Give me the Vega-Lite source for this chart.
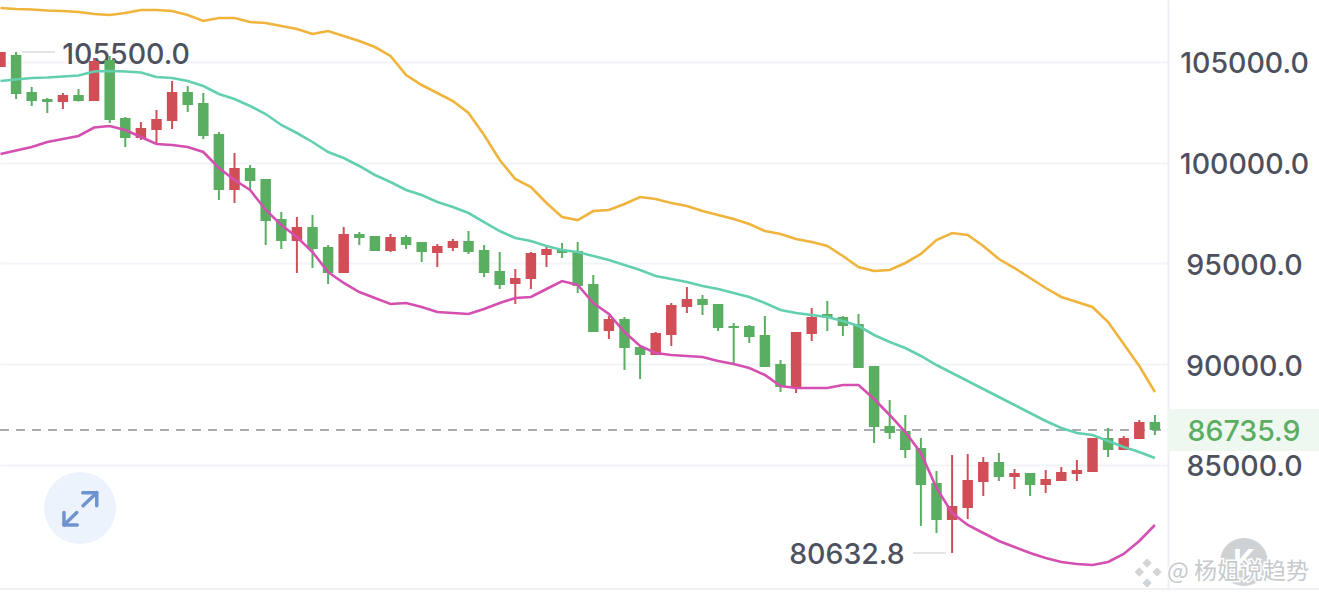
{
"$schema":"https://vega.github.io/schema/vega-lite/v6.json",
"width":1168,"height":589,
"autosize":"none",
"padding":{"left":0,"top":0,"right":151,"bottom":10},
"background":"white",
"config":{"view":{"stroke":null},"text":{"font":"Inter"}},
"data":{"values":[
{"i":0,"o":104752,"c":105496,"h":105496,"l":104752,"up":107680,"mid":104057,"low":100434},
{"i":1,"o":105347,"c":103412,"h":105500,"l":103164,"up":107630,"mid":104131,"low":100608},
{"i":2,"o":103511,"c":103064,"h":103759,"l":102816,"up":107605,"mid":104206,"low":100781},
{"i":3,"o":103164,"c":103015,"h":103213,"l":102469,"up":107556,"mid":104231,"low":101030},
{"i":4,"o":103015,"c":103362,"h":103461,"l":102667,"up":107531,"mid":104280,"low":101179},
{"i":5,"o":103362,"c":103064,"h":103660,"l":103040,"up":107481,"mid":104330,"low":101327},
{"i":6,"o":103064,"c":105050,"h":105198,"l":103064,"up":107382,"mid":104529,"low":101749},
{"i":7,"o":105099,"c":102121,"h":105298,"l":101973,"up":107333,"mid":104553,"low":101824},
{"i":8,"o":102221,"c":101228,"h":102270,"l":100781,"up":107432,"mid":104529,"low":101625},
{"i":9,"o":101228,"c":101725,"h":102022,"l":101129,"up":107581,"mid":104479,"low":101278},
{"i":10,"o":101625,"c":102171,"h":102618,"l":100980,"up":107581,"mid":104256,"low":100930},
{"i":11,"o":102072,"c":103511,"h":104057,"l":101675,"up":107531,"mid":104206,"low":100881},
{"i":12,"o":103511,"c":102866,"h":103809,"l":102518,"up":107333,"mid":104057,"low":100781},
{"i":13,"o":102965,"c":101327,"h":103461,"l":101179,"up":107035,"mid":103809,"low":100533},
{"i":14,"o":101427,"c":98647,"h":101526,"l":98151,"up":107184,"mid":103412,"low":99739},
{"i":15,"o":98647,"c":99739,"h":100484,"l":98002,"up":107184,"mid":103164,"low":99144},
{"i":16,"o":99739,"c":99094,"h":99888,"l":98647,"up":106985,"mid":102816,"low":98647},
{"i":17,"o":99193,"c":97108,"h":99193,"l":95918,"up":106936,"mid":102419,"low":97655},
{"i":18,"o":97207,"c":96117,"h":97555,"l":95719,"up":106787,"mid":101873,"low":96910},
{"i":19,"o":96117,"c":96810,"h":97306,"l":94528,"up":106638,"mid":101476,"low":96315},
{"i":20,"o":96810,"c":95719,"h":97406,"l":94776,"up":106390,"mid":101030,"low":95570},
{"i":21,"o":95818,"c":94528,"h":95918,"l":93981,"up":106538,"mid":100533,"low":94578},
{"i":22,"o":94528,"c":96464,"h":96810,"l":94528,"up":106290,"mid":100235,"low":94032},
{"i":23,"o":96464,"c":96265,"h":96563,"l":95918,"up":106042,"mid":99839,"low":93585},
{"i":24,"o":96364,"c":95620,"h":96364,"l":95620,"up":105744,"mid":99392,"low":93287},
{"i":25,"o":95620,"c":96315,"h":96464,"l":95570,"up":105298,"mid":99044,"low":92989},
{"i":26,"o":96315,"c":95918,"h":96414,"l":95719,"up":104355,"mid":98647,"low":93038},
{"i":27,"o":96067,"c":95570,"h":96067,"l":95075,"up":103858,"mid":98399,"low":92840},
{"i":28,"o":95521,"c":95868,"h":95967,"l":94826,"up":103461,"mid":98050,"low":92592},
{"i":29,"o":95769,"c":96117,"h":96216,"l":95620,"up":103064,"mid":97803,"low":92543},
{"i":30,"o":96117,"c":95570,"h":96612,"l":95471,"up":102469,"mid":97505,"low":92493},
{"i":31,"o":95670,"c":94528,"h":95918,"l":94329,"up":101377,"mid":97059,"low":92741},
{"i":32,"o":94627,"c":93932,"h":95570,"l":93733,"up":100136,"mid":96612,"low":93038},
{"i":33,"o":93981,"c":94279,"h":94727,"l":92989,"up":99193,"mid":96265,"low":93287},
{"i":34,"o":94230,"c":95521,"h":95570,"l":93733,"up":98796,"mid":96117,"low":93337},
{"i":35,"o":95421,"c":95719,"h":95818,"l":94826,"up":98002,"mid":95868,"low":93734},
{"i":36,"o":95670,"c":95521,"h":96017,"l":95273,"up":97306,"mid":95670,"low":94130},
{"i":37,"o":95620,"c":93882,"h":96067,"l":93535,"up":97158,"mid":95570,"low":93932},
{"i":38,"o":93981,"c":91600,"h":94429,"l":91600,"up":97605,"mid":95372,"low":93038},
{"i":39,"o":91650,"c":92245,"h":92394,"l":91252,"up":97655,"mid":95173,"low":92493},
{"i":40,"o":92245,"c":90806,"h":92344,"l":89714,"up":97952,"mid":94925,"low":91600},
{"i":41,"o":90855,"c":90458,"h":90855,"l":89267,"up":98301,"mid":94677,"low":90905},
{"i":42,"o":90458,"c":91550,"h":91600,"l":90458,"up":98201,"mid":94379,"low":90558},
{"i":43,"o":91451,"c":92939,"h":93038,"l":90905,"up":98002,"mid":94230,"low":90458},
{"i":44,"o":92840,"c":93237,"h":93833,"l":92543,"up":97853,"mid":94081,"low":90409},
{"i":45,"o":93237,"c":92939,"h":93436,"l":92443,"up":97605,"mid":93882,"low":90359},
{"i":46,"o":92989,"c":91798,"h":92989,"l":91650,"up":97406,"mid":93733,"low":90160},
{"i":47,"o":91898,"c":91798,"h":92047,"l":90061,"up":97207,"mid":93535,"low":90012},
{"i":48,"o":91898,"c":91352,"h":91947,"l":91053,"up":96956,"mid":93337,"low":89813},
{"i":49,"o":91451,"c":89863,"h":92394,"l":89863,"up":96612,"mid":93038,"low":89466},
{"i":50,"o":90012,"c":88870,"h":90210,"l":88622,"up":96464,"mid":92692,"low":88920},
{"i":51,"o":88870,"c":91600,"h":91600,"l":88572,"up":96216,"mid":92543,"low":88821},
{"i":52,"o":91501,"c":92344,"h":92790,"l":91153,"up":96067,"mid":92443,"low":88821},
{"i":53,"o":92493,"c":92294,"h":93138,"l":91650,"up":95868,"mid":92344,"low":88821},
{"i":54,"o":92344,"c":91898,"h":92394,"l":91401,"up":95372,"mid":92145,"low":88970},
{"i":55,"o":91997,"c":89813,"h":92493,"l":89813,"up":94826,"mid":91898,"low":88970},
{"i":56,"o":89913,"c":86886,"h":89913,"l":86091,"up":94627,"mid":91451,"low":88275},
{"i":57,"o":86935,"c":86588,"h":88225,"l":86290,"up":94677,"mid":91104,"low":87481},
{"i":58,"o":86687,"c":85744,"h":87481,"l":85347,"up":95025,"mid":90806,"low":86637},
{"i":59,"o":85843,"c":84007,"h":86339,"l":81971,"up":95471,"mid":90409,"low":85595},
{"i":60,"o":84106,"c":82269,"h":84701,"l":81624,"up":96166,"mid":89962,"low":83858},
{"i":61,"o":82269,"c":82964,"h":85495,"l":80633,"up":96513,"mid":89565,"low":82617},
{"i":62,"o":82865,"c":84255,"h":85545,"l":82319,"up":96414,"mid":89168,"low":82021},
{"i":63,"o":84155,"c":85148,"h":85397,"l":83460,"up":95868,"mid":88771,"low":81624},
{"i":64,"o":85148,"c":84403,"h":85595,"l":84205,"up":95222,"mid":88374,"low":81227},
{"i":65,"o":84403,"c":84602,"h":84801,"l":83808,"up":94776,"mid":87977,"low":80929},
{"i":66,"o":84602,"c":84007,"h":84602,"l":83460,"up":94280,"mid":87580,"low":80631},
{"i":67,"o":84007,"c":84304,"h":84751,"l":83609,"up":93783,"mid":87183,"low":80383},
{"i":68,"o":84205,"c":84652,"h":84900,"l":84205,"up":93337,"mid":86836,"low":80185},
{"i":69,"o":84552,"c":84751,"h":85247,"l":84205,"up":93089,"mid":86588,"low":80086},
{"i":70,"o":84652,"c":86339,"h":86339,"l":84652,"up":92840,"mid":86488,"low":80036},
{"i":71,"o":86339,"c":85744,"h":86836,"l":85397,"up":92096,"mid":86190,"low":80185},
{"i":72,"o":85744,"c":86339,"h":86439,"l":85744,"up":91004,"mid":85892,"low":80582},
{"i":73,"o":86290,"c":87134,"h":87233,"l":86290,"up":89912,"mid":85644,"low":81227},
{"i":74,"o":87134,"c":86736,"h":87481,"l":86488,"up":88622,"mid":85347,"low":82021}
]},
"layer":[
{"data":{"values":[{"x":74.84,"x2":84.52,"y":87778,"y2":85694}]},
 "mark":{"type":"rect","color":"#eff7f1","clip":false},
 "encoding":{"x":{"field":"x","type":"quantitative","scale":{"domain":[-0.032,74.84],"nice":false,"zero":false,"padding":0},"axis":null},"x2":{"field":"x2"},
  "y":{"field":"y","type":"quantitative","scale":{"domain":[78845,108077],"nice":false,"zero":false,"padding":0},
   "axis":{"orient":"right","title":null,"values":[85000,90000,95000,100000,105000],"format":".1f","ticks":false,"grid":true,"gridColor":"#f1f4f8","gridWidth":2,"domainColor":"#edf0f5","domainWidth":2,"labelFont":"Inter","labelFontSize":28.5,"labelFontWeight":500,"labelColor":"#4d515e","labelAlign":"center","labelPadding":76,"labelOffset":2}},
  "y2":{"field":"y2"}}},
{"data":{"values":[{"x":-0.032,"x2":84.52,"y":78845}]},
 "mark":{"type":"rule","color":"#eef1f6","strokeWidth":2,"clip":false},
 "encoding":{"x":{"field":"x","type":"quantitative"},"x2":{"field":"x2"},"y":{"field":"y","type":"quantitative"}}},
{"data":{"values":[{"x":-0.032,"x2":74.5,"y":86736}]},
 "mark":{"type":"rule","color":"#8d9199","strokeWidth":1.5,"strokeDash":[9,7]},
 "encoding":{"x":{"field":"x","type":"quantitative"},"x2":{"field":"x2"},"y":{"field":"y","type":"quantitative"}}},
{"data":{"values":[{"x":1.38,"x2":3.49,"y":105496},{"x":58.5,"x2":60.61,"y":80632}]},
 "mark":{"type":"rule","color":"#d9dbde","strokeWidth":1.5},
 "encoding":{"x":{"field":"x","type":"quantitative"},"x2":{"field":"x2"},"y":{"field":"y","type":"quantitative"}}},
{"data":{"values":[{"x":8.05,"y":105450,"label":"105500.0"},{"x":54.26,"y":80633,"label":"80632.8"}]},
 "mark":{"type":"text","font":"Inter","fontSize":28.5,"fontWeight":500,"color":"#4d515e","align":"center","baseline":"middle","dy":2},
 "encoding":{"x":{"field":"x","type":"quantitative"},"y":{"field":"y","type":"quantitative"},"text":{"field":"label"}}},
{"data":{"values":[{"x":79.71,"y":86736,"label":"86735.9"}]},
 "mark":{"type":"text","font":"Inter","fontSize":28.5,"fontWeight":500,"color":"#5aae62","align":"center","baseline":"middle","dy":2},
 "encoding":{"x":{"field":"x","type":"quantitative"},"y":{"field":"y","type":"quantitative"},"text":{"field":"label"}}},
{"mark":{"type":"rule","strokeWidth":2,"clip":true},
 "encoding":{"x":{"field":"i","type":"quantitative"},"y":{"field":"h","type":"quantitative"},"y2":{"field":"l"},
  "color":{"condition":{"test":"datum.o>datum.c","value":"#5aae62"},"value":"#d04f57"}}},
{"mark":{"type":"bar","size":10.5,"orient":"vertical","clip":true},
 "encoding":{"x":{"field":"i","type":"quantitative"},"y":{"field":"o","type":"quantitative"},"y2":{"field":"c"},
  "color":{"condition":{"test":"datum.o>datum.c","value":"#5aae62"},"value":"#d04f57"}}},
{"mark":{"type":"line","color":"#f0b33c","strokeWidth":2.6,"clip":true},
 "encoding":{"x":{"field":"i","type":"quantitative"},"y":{"field":"up","type":"quantitative"}}},
{"mark":{"type":"line","color":"#62cfb0","strokeWidth":2.6,"clip":true},
 "encoding":{"x":{"field":"i","type":"quantitative"},"y":{"field":"mid","type":"quantitative"}}},
{"mark":{"type":"line","color":"#d44fb0","strokeWidth":2.6,"clip":true},
 "encoding":{"x":{"field":"i","type":"quantitative"},"y":{"field":"low","type":"quantitative"}}},
{"data":{"values":[{"x":5.1,"y":82865}]},
 "mark":{"type":"point","shape":"circle","filled":true,"opacity":1,"size":5184,"color":"#edf3fc"},
 "encoding":{"x":{"field":"x","type":"quantitative"},"y":{"field":"y","type":"quantitative"}}},
{"data":{"values":[
 {"s":"a","n":1,"x":5.27,"y":83625},{"s":"a","n":2,"x":6.17,"y":83625},{"s":"a","n":3,"x":6.17,"y":82979},
 {"s":"b","n":1,"x":5.29,"y":82979},{"s":"b","n":2,"x":6.17,"y":83625},
 {"s":"c","n":1,"x":4.07,"y":82642},{"s":"c","n":2,"x":4.07,"y":82021},{"s":"c","n":3,"x":4.92,"y":82021},
 {"s":"d","n":1,"x":4.89,"y":82642},{"s":"d","n":2,"x":4.07,"y":82021}]},
 "mark":{"type":"line","color":"#6f93cf","strokeWidth":3.5,"strokeCap":"round","strokeJoin":"round"},
 "encoding":{"x":{"field":"x","type":"quantitative"},"y":{"field":"y","type":"quantitative"},"detail":{"field":"s"},"order":{"field":"n"}}},
{"data":{"values":[{"x":79.71,"y":80186}]},
 "mark":{"type":"point","shape":"circle","filled":true,"opacity":1,"size":2304,"color":"#cfd2d4","clip":false},
 "encoding":{"x":{"field":"x","type":"quantitative"},"y":{"field":"y","type":"quantitative"}}},
{"data":{"values":[{"x":79.71,"y":80186,"label":"K"}]},
 "mark":{"type":"text","font":"Inter","fontSize":30,"fontWeight":700,"color":"#ffffff","align":"center","baseline":"middle"},
 "encoding":{"x":{"field":"x","type":"quantitative"},"y":{"field":"y","type":"quantitative"},"text":{"field":"label"}}},
{"data":{"values":[{"x":73.5,"y":80135},{"x":73.0,"y":79689},{"x":74.14,"y":79689},{"x":73.5,"y":79143}]},
 "mark":{"type":"point","shape":"diamond","filled":true,"opacity":1,"size":110,"color":"#d3d6d8","stroke":"white","strokeWidth":1,"clip":false},
 "encoding":{"x":{"field":"x","type":"quantitative"},"y":{"field":"y","type":"quantitative"}}},
{"data":{"values":[{"x":74.78,"y":79689,"label":"@ 杨姐说趋势"}]},
 "mark":{"type":"text","font":"Noto Sans CJK SC","fontSize":23,"color":"#ffffff","stroke":"#ffffff","strokeWidth":3,"align":"left","baseline":"middle"},
 "encoding":{"x":{"field":"x","type":"quantitative"},"y":{"field":"y","type":"quantitative"},"text":{"field":"label"}}},
{"data":{"values":[{"x":74.78,"y":79689,"label":"@ 杨姐说趋势"}]},
 "mark":{"type":"text","font":"Noto Sans CJK SC","fontSize":23,"color":"#c6cacd","align":"left","baseline":"middle"},
 "encoding":{"x":{"field":"x","type":"quantitative"},"y":{"field":"y","type":"quantitative"},"text":{"field":"label"}}}
]
}
